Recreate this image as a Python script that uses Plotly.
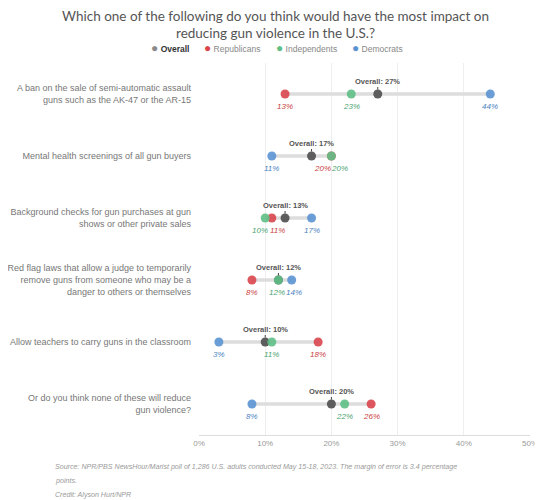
import plotly.graph_objects as go

# survey answers, top to bottom
items = [
    "A ban on the sale of semi-automatic assault<br>guns such as the AK-47 or the AR-15",
    "Mental health screenings of all gun buyers",
    "Background checks for gun purchases at gun<br>shows or other private sales",
    "Red flag laws that allow a judge to temporarily<br>remove guns from someone who may be a<br>danger to others or themselves",
    "Allow teachers to carry guns in the classroom",
    "Or do you think none of these will reduce<br>gun violence?",
]
overall = [27, 17, 13, 12, 10, 20]
republicans = [13, 20, 11, 8, 18, 26]
independents = [23, 20, 10, 12, 11, 22]
democrats = [44, 11, 17, 14, 3, 8]
x_ticks = [0, 10, 20, 30, 40, 50]

groups = [
    ("Republicans", republicans, "#d9464c", "#c9403f"),
    ("Independents", independents, "#5fbf85", "#4aa572"),
    ("Democrats", democrats, "#5b93d1", "#4a82c0"),
]
OVERALL_COL = "#555555"

# page body adds an 8px margin, so lay out in page pixels minus that
OFF = 8
W, H = 543 - OFF, 500 - OFF
ML, MT = 199 - OFF, 63 - OFF
MR, MB = W - (530 - OFF), H - (435 - OFF)
plot_w = W - ML - MR
plot_h = H - MT - MB
x_max = 50
px_per_pt = plot_w / x_max


def px_x(p):
    return (p - OFF - ML) / plot_w


def px_y(p):
    return (H - MB - (p - OFF)) / plot_h


rows = list(range(len(items)))
fig = go.Figure()

# grey bar from min to max per row
lx, ly = [], []
for i in rows:
    vals = [overall[i], republicans[i], independents[i], democrats[i]]
    lx += [min(vals), max(vals), None]
    ly += [i, i, None]
fig.add_trace(go.Scatter(x=lx, y=ly, mode="lines", line=dict(color="#dddddd", width=3.5),
                         hoverinfo="skip", cliponaxis=False))

fig.add_trace(go.Scatter(x=overall, y=rows, mode="markers", name="Overall", cliponaxis=False,
                         marker=dict(color=OVERALL_COL, size=9, opacity=0.95)))
for name, vals, col, tcol in groups:
    fig.add_trace(go.Scatter(x=vals, y=rows, mode="markers", name=name, cliponaxis=False,
                             marker=dict(color=col, size=9, opacity=0.9)))

annos = []
# overall label with short leader
for i in rows:
    annos.append(dict(x=overall[i], y=i, xref="x", yref="y", text="<b>Overall: %d%%</b>" % overall[i],
                      showarrow=True, ax=0, ay=-13, arrowhead=0, arrowwidth=1, arrowcolor="#444",
                      standoff=4.5, font=dict(size=7.5, color="#555"), yanchor="middle"))

# value labels, nudged apart when they collide
need = 17.0
for i in rows:
    entries = sorted([(vals[i], k) for k, (n, vals, c, t) in enumerate(groups)])
    shifts = {k: 0.0 for k in range(len(groups))}
    for a, b in zip(entries, entries[1:]):
        sep = (b[0] - a[0]) * px_per_pt
        if sep < need:
            d = (need - sep) / 2
            shifts[a[1]] -= d
            shifts[b[1]] += d
    for k, (name, vals, col, tcol) in enumerate(groups):
        annos.append(dict(x=vals[i], y=i, xref="x", yref="y", text="<i>%d%%</i>" % vals[i],
                          showarrow=False, yshift=-12, xshift=shifts[k],
                          font=dict(size=8, color=tcol)))

# legend as a text row
legend_items = [
    ("<b>Overall</b>", "#8a8a8a", "#333", 149),
    ("Republicans", "#d9464c", "#888", 202),
    ("Independents", "#5fbf85", "#888", 274),
    ("Democrats", "#5b93d1", "#888", 350),
]
for label, dot, tc, lx0 in legend_items:
    annos.append(dict(x=px_x(lx0), y=px_y(48), xref="paper", yref="paper",
                      text="<span style='color:%s;font-size:12px'>●</span> %s" % (dot, label),
                      showarrow=False, xanchor="left", yanchor="middle",
                      font=dict(size=8.5, color=tc)))

# footnotes
foot = [
    ("Source: NPR/PBS NewsHour/Marist poll of 1,286 U.S. adults conducted May 15-18, 2023. The margin of error is 3.4 percentage", 467),
    ("points.", 481),
    ("Credit: Alyson Hurt/NPR", 495),
]
for txt, yy in foot:
    annos.append(dict(x=px_x(53), y=px_y(yy), xref="paper", yref="paper", text="<i>%s</i>" % txt,
                      showarrow=False, xanchor="left", yanchor="middle",
                      font=dict(size=7.1, color="#9a9a9a")))

fig.update_layout(
    width=W, height=H,
    margin=dict(l=ML, r=MR, t=MT, b=MB, autoexpand=False),
    plot_bgcolor="white", paper_bgcolor="white",
    font=dict(family="Liberation Sans, Arial, sans-serif", color="#777"),
    title=dict(text="Which one of the following do you think would have the most impact on<br>reducing gun violence in the U.S.?",
               x=0.5, xanchor="center", y=1 - 12.5 / H, yanchor="middle",
               font=dict(family="Lato, sans-serif", size=13.5, color="#555")),
    xaxis=dict(range=[0, x_max], tickvals=x_ticks, ticktext=["%d%%" % v for v in x_ticks],
               showgrid=True, gridcolor="#eeeeee", gridwidth=1, zeroline=False,
               showline=True, linecolor="#dddddd", ticks="", automargin=False,
               tickfont=dict(size=8, color="#999")),
    yaxis=dict(range=[5.5, -0.5], tickvals=rows, ticktext=items, showgrid=False, zeroline=False,
               showline=False, ticklabelstandoff=7, automargin=False,
               tickfont=dict(size=9, color="#777")),
    annotations=annos,
    showlegend=False,
)

fig.write_html("out.html")
